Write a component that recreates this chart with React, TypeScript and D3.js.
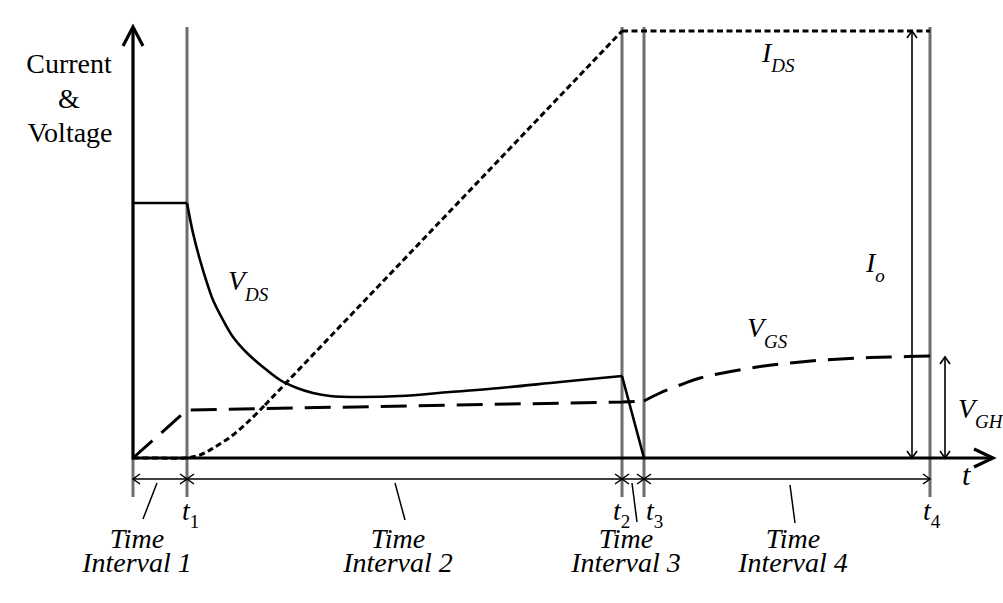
import React from 'react';
import * as d3 from 'd3';

type P = [number, number];

// ---------- data (time in arbitrary units, value in arbitrary units) ----------
const markerLabels = ['1', '2', '3', '4'];
const markerTimes = [54, 489, 511, 797];
const intervalLabels = ['Interval 1', 'Interval 2', 'Interval 3', 'Interval 4'];

const vdsOn: P[] = [[0, 255], [54, 255]];
const vdsDecay: P[] = [
  [54, 255], [60, 225], [67, 198], [74, 175], [80, 158], [90, 138], [100, 121],
  [114, 105], [130, 91], [147, 78], [164, 70], [180, 65], [197, 62], [227, 61],
  [267, 62], [317, 66], [367, 70], [427, 76], [489, 82],
];
const vdsFall: P[] = [[489, 82], [511, 0]];

const idsRise: P[] = [[0, 0], [27, 0], [52, 0], [67, 3], [82, 11], [100, 23], [117, 38], [132, 53]];
const idsRamp: P[] = [[132, 53], [489, 427]];
const idsFlat: P[] = [[489, 427], [797, 427]];

const vgsLin: P[] = [[0, 0], [54, 48], [489, 56], [511, 57]];
const vgsCurve: P[] = [
  [511, 57], [527, 65], [547, 73], [567, 80], [590, 85], [624, 91], [657, 95],
  [690, 98], [724, 100], [757, 101], [797, 102],
];

const ioTime = 779;
const ioValue = 427;
const vghTime = 812;
const vghValue = 101;

const xMax = 860;
const yMax = 431;

// ---------- layout ----------
const W = 1003;
const H = 603;
const x = d3.scaleLinear().domain([0, xMax]).range([133, 993]);
const y = d3.scaleLinear().domain([0, yMax]).range([458, 27]);

const FONT = '"Liberation Serif", Tinos, "Times New Roman", serif';
const GRAY = '#6e6e6e';
const FS = 28;
const SUB = 19;

const lin = d3.line<P>().x(d => x(d[0])).y(d => y(d[1])).curve(d3.curveLinear);
const smooth = d3.line<P>().x(d => x(d[0])).y(d => y(d[1])).curve(d3.curveCatmullRom.alpha(0.5));

function chevron(px: number, py: number, dx: number, dy: number, len: number, half: number) {
  const n = Math.hypot(dx, dy);
  const ux = dx / n, uy = dy / n;
  const bx = px - ux * len, by = py - uy * len;
  const nx = -uy, ny = ux;
  return `M${bx + nx * half},${by + ny * half}L${px},${py}L${bx - nx * half},${by - ny * half}`;
}

const rowV = -21; // interval dimension row
const grayBottom = -39;
const markerLabelShift = [-5, -9, 2, -7];

const leaders: [P, P][] = [
  [[24, -25], [10, -61]],
  [[262, -25], [272, -62]],
  [[499, -25], [504, -64]],
  [[657, -27], [662, -65]],
];
const intervalCenters = [4, 265, 493, 660];

const txt: React.CSSProperties = { fontFamily: FONT };

export default function App() {
  const bounds = [0, ...markerTimes];
  const segs: [number, number][] = [];
  for (let i = 0; i < bounds.length - 1; i++) segs.push([bounds[i], bounds[i + 1]]);

  return (
    <svg width={W} height={H} style={{ position: 'absolute', left: 0, top: 0, background: '#fff', fontFamily: FONT }}>
      {/* gray time marker lines */}
      <line x1={x(0)} x2={x(0)} y1={y(0)} y2={y(grayBottom)} stroke={GRAY} strokeWidth={3} />
      {markerTimes.map((t, i) => (
        <line key={i} x1={x(t)} x2={x(t)} y1={y(yMax)} y2={y(grayBottom)} stroke={GRAY} strokeWidth={3} />
      ))}

      {/* axes */}
      <line x1={x(0)} x2={x(0)} y1={y(0) + 1.5} y2={y(yMax) + 1} stroke="#000" strokeWidth={3.2} />
      <path d={chevron(x(0), y(yMax), 0, -1, 19, 10)} fill="none" stroke="#000" strokeWidth={3.2} />
      <line x1={x(0)} x2={x(xMax) - 1} y1={y(0)} y2={y(0)} stroke="#000" strokeWidth={3.2} />
      <path d={chevron(x(xMax), y(0), 1, 0, 19, 9)} fill="none" stroke="#000" strokeWidth={3.2} />

      {/* curves */}
      <path d={lin(vdsOn)!} fill="none" stroke="#000" strokeWidth={2.6} />
      <path d={smooth(vdsDecay)!} fill="none" stroke="#000" strokeWidth={2.6} />
      <path d={lin(vdsFall)!} fill="none" stroke="#000" strokeWidth={2.6} />

      <path d={smooth(idsRise)! + lin(idsRamp)! + lin(idsFlat)!} fill="none" stroke="#000"
        strokeWidth={3} strokeDasharray="6 3.5" />

      <path d={lin(vgsLin)! + smooth(vgsCurve)!} fill="none" stroke="#000"
        strokeWidth={3} strokeDasharray="26 12" />

      {/* Io and VGH dimension arrows */}
      <line x1={x(ioTime)} x2={x(ioTime)} y1={y(ioValue)} y2={y(0)} stroke="#000" strokeWidth={1.6} />
      <path d={chevron(x(ioTime), y(ioValue), 0, -1, 7, 5)} fill="none" stroke="#000" strokeWidth={1.6} />
      <path d={chevron(x(ioTime), y(0), 0, 1, 7, 5)} fill="none" stroke="#000" strokeWidth={1.6} />
      <line x1={x(vghTime)} x2={x(vghTime)} y1={y(vghValue)} y2={y(0)} stroke="#000" strokeWidth={1.6} />
      <path d={chevron(x(vghTime), y(vghValue), 0, -1, 7, 5)} fill="none" stroke="#000" strokeWidth={1.6} />
      <path d={chevron(x(vghTime), y(0), 0, 1, 7, 5)} fill="none" stroke="#000" strokeWidth={1.6} />

      {/* interval dimension row */}
      {segs.map(([a, b], i) => (
        <g key={i}>
          <line x1={x(a)} x2={x(b)} y1={y(rowV)} y2={y(rowV)} stroke="#000" strokeWidth={1.5} />
          <path d={chevron(x(a), y(rowV), -1, 0, 7, 5)} fill="none" stroke="#000" strokeWidth={1.5} />
          <path d={chevron(x(b), y(rowV), 1, 0, 7, 5)} fill="none" stroke="#000" strokeWidth={1.5} />
        </g>
      ))}
      {leaders.map(([p0, p1], i) => (
        <line key={i} x1={x(p0[0])} y1={y(p0[1])} x2={x(p1[0])} y2={y(p1[1])} stroke="#000" strokeWidth={1.5} />
      ))}

      {/* interval labels */}
      {intervalLabels.map((lab, i) => (
        <text key={i} textAnchor="middle" fontStyle="italic" fontSize={FS} style={txt}>
          <tspan x={x(intervalCenters[i])} y={y(-90)}>Time</tspan>
          <tspan x={x(intervalCenters[i])} y={y(-114)}>{lab}</tspan>
        </text>
      ))}

      {/* time markers labels */}
      {markerTimes.map((t, i) => (
        <text key={i} x={x(t) + markerLabelShift[i]} y={y(-62)} fontSize={FS} fontStyle="italic" style={txt}>
          t<tspan fontStyle="normal" fontSize={SUB} dy={8}>{markerLabels[i]}</tspan>
        </text>
      ))}
      <text x={x(xMax) - 31} y={y(-27)} fontSize={30} fontStyle="italic" style={txt}>t</text>

      {/* y axis title */}
      <text textAnchor="middle" fontSize={FS} style={txt}>
        <tspan x={69} y={73}>Current</tspan>
        <tspan x={69} y={108}>&amp;</tspan>
        <tspan x={70} y={142}>Voltage</tspan>
      </text>

      {/* series labels */}
      <text x={x(95)} y={y(168)} fontSize={FS} fontStyle="italic" style={txt}>
        V<tspan fontSize={SUB} dy={11}>DS</tspan>
      </text>
      <text x={x(629)} y={y(396)} fontSize={FS} fontStyle="italic" style={txt}>
        I<tspan fontSize={SUB} dy={10}>DS</tspan>
      </text>
      <text x={x(614)} y={y(121)} fontSize={FS} fontStyle="italic" style={txt}>
        V<tspan fontSize={SUB} dy={11}>GS</tspan>
      </text>
      <text x={x(733)} y={y(186)} fontSize={FS} fontStyle="italic" style={txt}>
        I<tspan fontSize={SUB} dy={10}>o</tspan>
      </text>
      <text x={x(825)} y={y(40)} fontSize={FS} fontStyle="italic" style={txt}>
        V<tspan fontSize={SUB} dy={10}>GH</tspan>
      </text>
    </svg>
  );
}
